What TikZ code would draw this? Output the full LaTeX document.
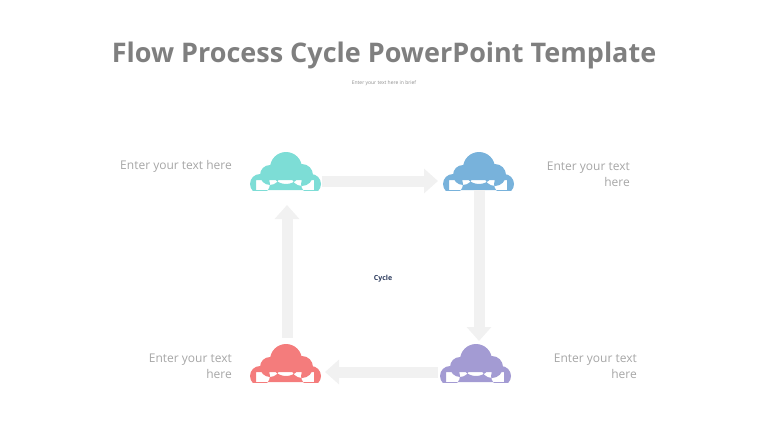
\documentclass[tikz,border=0pt]{standalone}
\usepackage{fontspec}
\setmainfont{Open Sans}
\usetikzlibrary{arrows.meta}
\definecolor{teal}{HTML}{7DDDD6}
\definecolor{sky}{HTML}{78B2DB}
\definecolor{salmon}{HTML}{F47C7C}
\definecolor{lav}{HTML}{A39BD3}
\definecolor{arr}{HTML}{F1F1F1}
\definecolor{txt}{HTML}{A6A6A6}
\tikzset{
  cloud/.pic={
    \begin{scope}
    \clip (-2,0) rectangle (78,42);
    \fill[#1] (12,6) circle (10) (22,15) circle (10) (38,22) circle (16) (54,15) circle (11) (63,6) circle (10) (8,0) rectangle (66,10);
    \end{scope}
  },
  flow/.style={arr, line width=11pt, -{Triangle[width=24pt,length=14pt]}},
  side/.style={text=txt, font=\fontsize{12}{16}\selectfont, align=right, anchor=east, inner sep=0pt}
}
\begin{document}
\begin{tikzpicture}[x=1pt,y=1pt]
\useasboundingbox (0,0) rectangle (768,432);
\node (title) at (384,377) {\fontsize{27}{30}\selectfont\bfseries\color[HTML]{7F7F7F}Flow Process Cycle PowerPoint Template};
\node (sub) at (384,349) {\fontsize{5}{6}\selectfont\color[HTML]{8C8C8C}Enter your text here in brief};
\pic at (248,242) {cloud=teal};
\pic at (441,242) {cloud=sky};
\pic at (248,50) {cloud=salmon};
\pic at (438,50) {cloud=lav};
\coordinate (a1) at (322,251); \coordinate (a2) at (438,251);
\coordinate (b1) at (479,242); \coordinate (b2) at (479,91);
\coordinate (c1) at (438,60); \coordinate (c2) at (325,60);
\coordinate (d1) at (287,94); \coordinate (d2) at (287,227);
\draw[flow] (a1) -- (a2);
\draw[flow] (b1) -- (b2);
\draw[flow] (c1) -- (c2);
\draw[flow] (d1) -- (d2);
\node (cyc) at (383,153) {\fontsize{7}{8}\selectfont\bfseries\color[HTML]{2B3A5C}Cycle};
\node[side] (t1) at (232,266) {Enter your text here};
\node[side] (t2) at (630,258) {Enter your text\\here};
\node[side] (t3) at (232,66) {Enter your text\\here};
\node[side] (t4) at (637,66) {Enter your text\\here};
\end{tikzpicture}
\end{document}
